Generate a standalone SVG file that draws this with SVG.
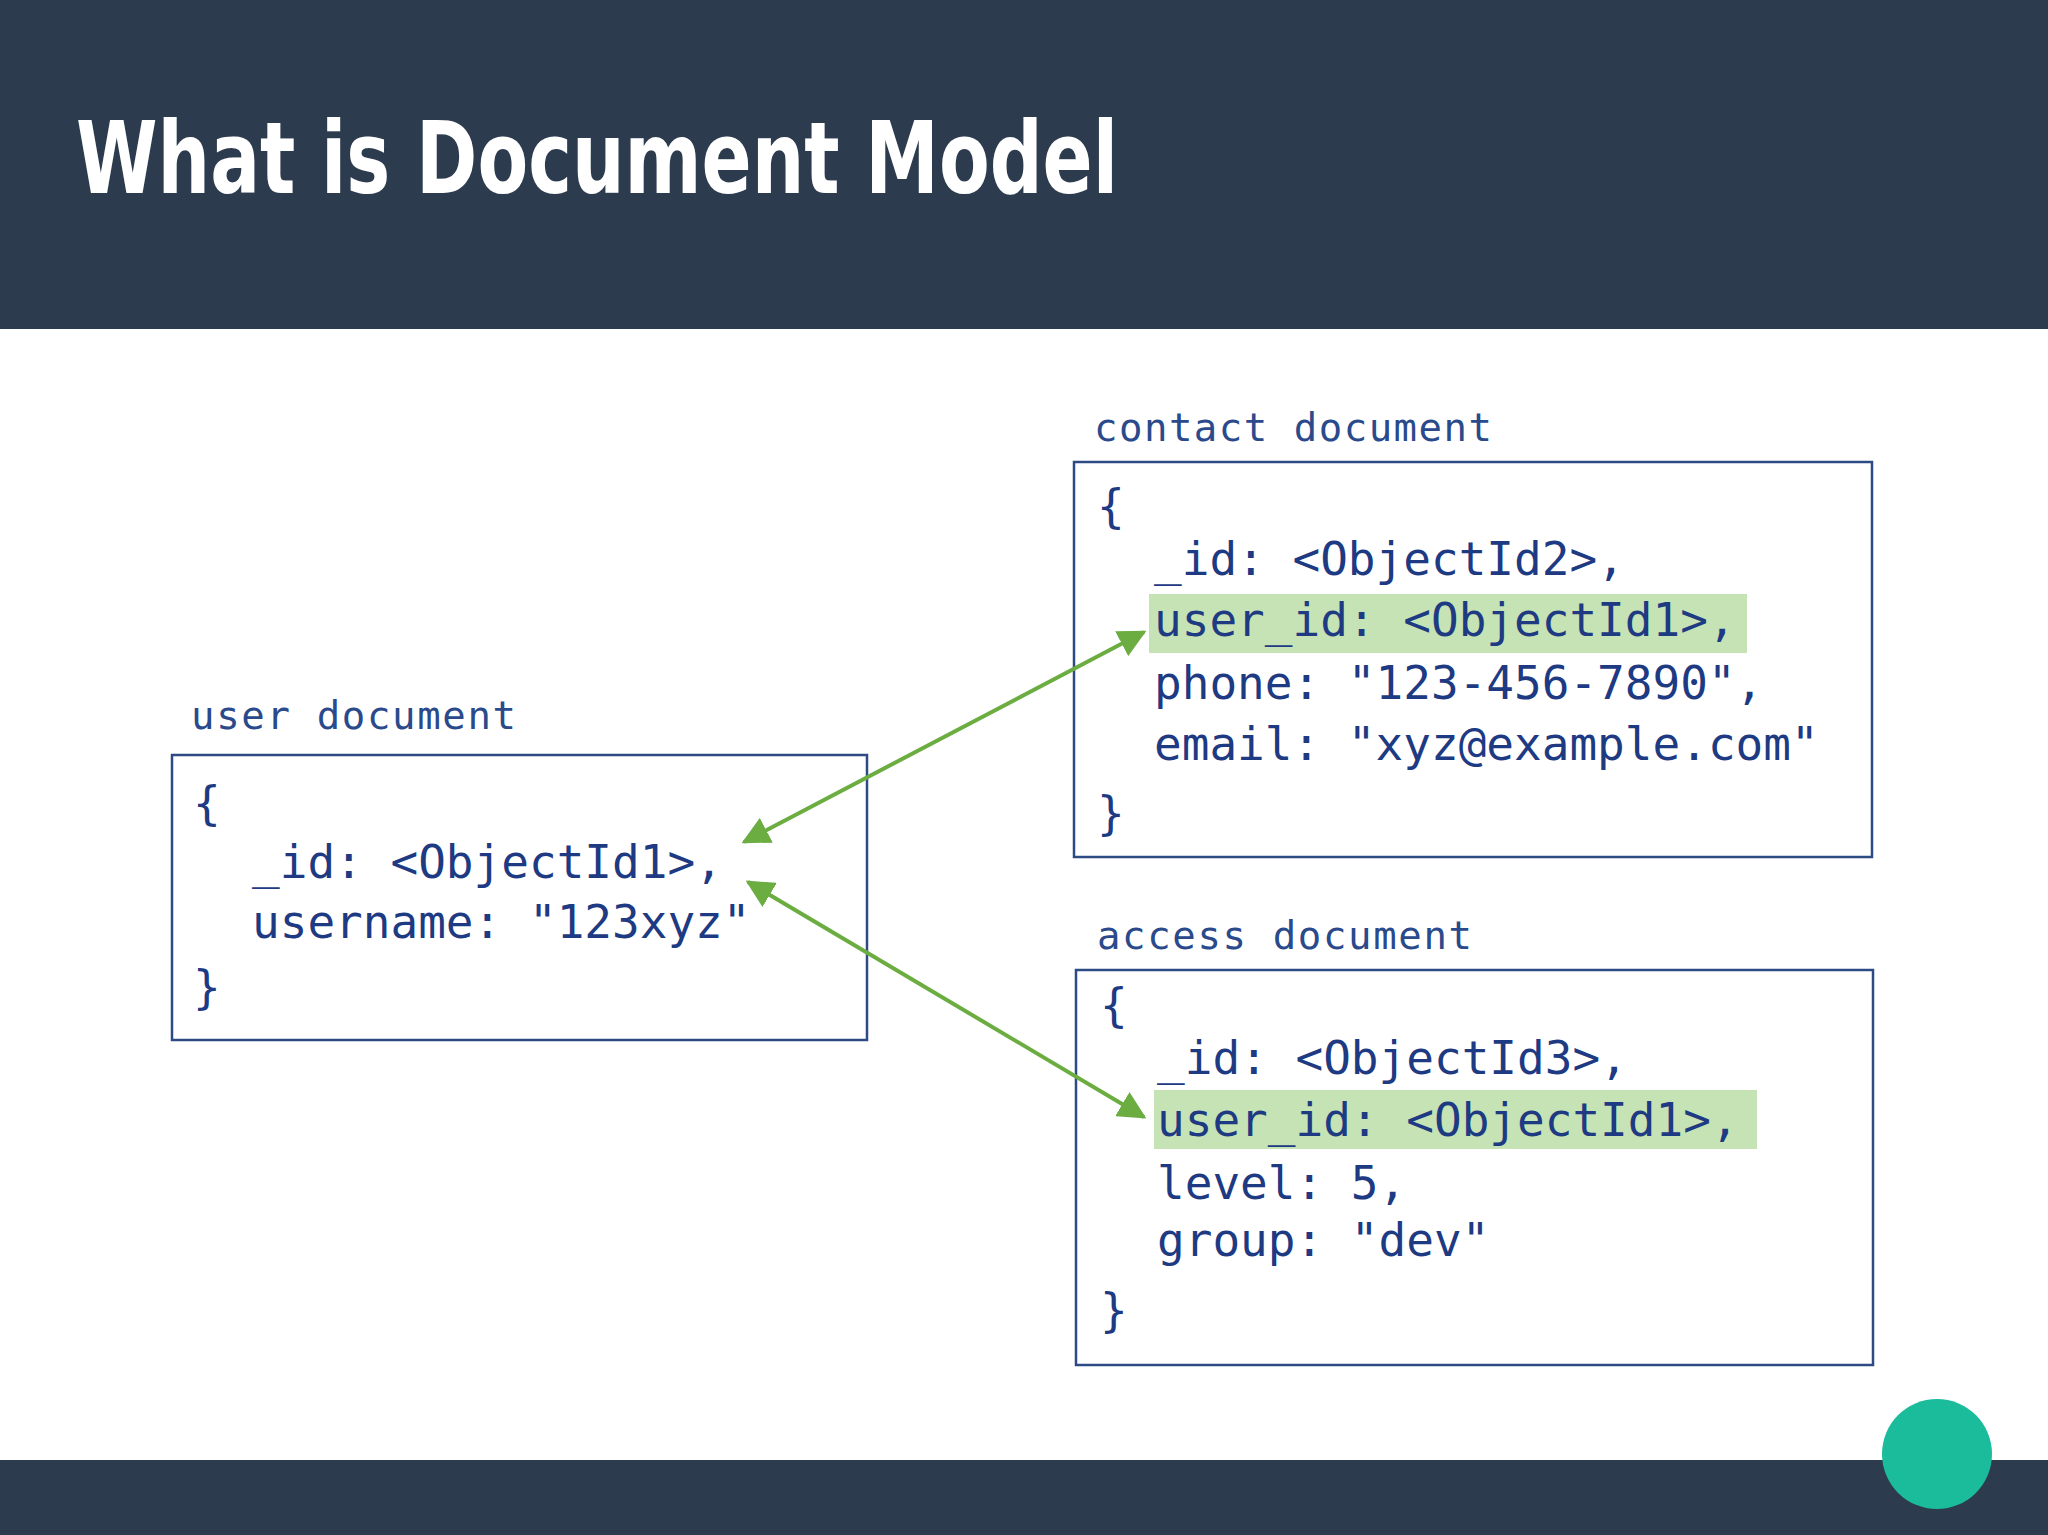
<svg xmlns="http://www.w3.org/2000/svg" width="2048" height="1535" viewBox="0 0 2048 1535">
<style>
.code{font-family:"DejaVu Sans Mono",monospace;font-size:46px;fill:#1d3a82}
.lbl{font-family:"DejaVu Sans Mono",monospace;font-size:39px;fill:#2a4a8c}
.box{fill:#fff;stroke:#2e4a85;stroke-width:2.5}
.hl{fill:#c5e3b4}
.arr{stroke:#6cad42;stroke-width:4;fill:none;marker-start:url(#h);marker-end:url(#h)}
</style>
<defs><marker id="h" viewBox="0 0 10 10" refX="9" refY="5" markerWidth="7" markerHeight="7" orient="auto-start-reverse" markerUnits="strokeWidth"><path d="M0,0L10,5L0,10z" fill="#6cad42"/></marker></defs>
<rect width="2048" height="1535" fill="#fff"/>
<rect width="2048" height="329" fill="#2d3b4f"/>
<text x="76" y="193" font-family="DejaVu Sans Condensed,DejaVu Sans,sans-serif" font-weight="bold" font-size="100" fill="#fff" textLength="1042" lengthAdjust="spacingAndGlyphs">What is Document Model</text>
<rect y="1460" width="2048" height="75" fill="#2d3b4f"/>
<circle cx="1937" cy="1454" r="55" fill="#1abc9c"/>
<g id="user">
<text class="lbl" x="191" y="729" textLength="325">user document</text>
<rect class="box" x="172" y="755" width="695" height="285"/>
<text class="code" x="193" y="819">{</text>
<text class="code" x="252" y="878">_id: &lt;ObjectId1&gt;,</text>
<text class="code" x="252" y="938">username: "123xyz"</text>
<text class="code" x="193" y="1003">}</text>
</g>
<g id="contact">
<text class="lbl" x="1094" y="441" textLength="398">contact document</text>
<rect class="box" x="1074" y="462" width="798" height="395"/>
<rect class="hl" x="1149" y="594" width="598" height="59"/>
<text class="code" x="1097" y="522">{</text>
<text class="code" x="1154" y="575">_id: &lt;ObjectId2&gt;,</text>
<text class="code" x="1154" y="636">user_id: &lt;ObjectId1&gt;,</text>
<text class="code" x="1154" y="699">phone: "123-456-7890",</text>
<text class="code" x="1154" y="760">email: "xyz@example.com"</text>
<text class="code" x="1097" y="829">}</text>
</g>
<g id="access">
<text class="lbl" x="1097" y="949" textLength="375">access document</text>
<rect class="box" x="1076" y="970" width="797" height="395"/>
<rect class="hl" x="1154" y="1090" width="603" height="59"/>
<text class="code" x="1100" y="1021">{</text>
<text class="code" x="1157" y="1074">_id: &lt;ObjectId3&gt;,</text>
<text class="code" x="1157" y="1136">user_id: &lt;ObjectId1&gt;,</text>
<text class="code" x="1157" y="1199">level: 5,</text>
<text class="code" x="1157" y="1256">group: "dev"</text>
<text class="code" x="1100" y="1326">}</text>
</g>
<g id="connectors">
<line class="arr" x1="744" y1="842" x2="1144" y2="632"/>
<line class="arr" x1="748" y1="882" x2="1144" y2="1117"/>
</g>
</svg>
